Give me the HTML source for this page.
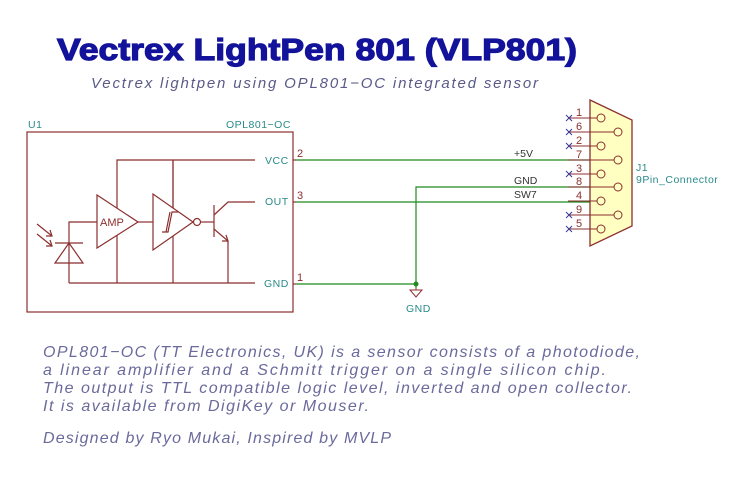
<!DOCTYPE html>
<html><head><meta charset="utf-8"><style>
html,body{margin:0;padding:0;background:#fff;}
svg{display:block;}
text{font-family:"Liberation Sans",sans-serif;}
</style></head><body>
<svg width="740" height="487" viewBox="0 0 740 487" xmlns="http://www.w3.org/2000/svg">
<rect width="740" height="487" fill="#fff"/>
<!-- title -->
<text x="57" y="60" font-size="31" font-weight="bold" fill="#12129a" stroke="#12129a" stroke-width="1.2" textLength="520" lengthAdjust="spacingAndGlyphs">Vectrex LightPen 801 (VLP801)</text>
<text x="91" y="88" font-size="15" font-style="italic" fill="#5a5a88" textLength="447" lengthAdjust="spacing">Vectrex lightpen using OPL801−OC integrated sensor</text>

<!-- U1 box -->
<g stroke="#8b2f2f" stroke-width="1.2" fill="none">
<rect x="27" y="132" width="266" height="180"/>
<polyline points="117,248 117,160 255,160"/>
<line x1="173" y1="160" x2="173" y2="283"/>
<line x1="69" y1="283" x2="255" y2="283"/>
<line x1="117" y1="248" x2="117" y2="283"/>
<polygon points="97,195 97,248 138,222" fill="#fff"/>
<line x1="138" y1="222" x2="153" y2="222"/>
<polygon points="153,194 153,250 193,222" fill="#fff"/>
<line x1="173" y1="160" x2="173" y2="208"/>
<path d="M162,232 L168,232 L172,212 L178,212 M166,232 L170,212"/>
<circle cx="197" cy="222" r="3.5" fill="#fff"/>
<line x1="200.5" y1="222" x2="214" y2="222"/>
<line x1="214" y1="205" x2="214" y2="237"/>
<polyline points="214,215 228,202 255,202"/>
<polyline points="214,229 228,241 228,283"/>
<path d="M222,241 L228,241 L226,235"/>
<polyline points="97,222 69,222 69,283"/>
<line x1="55" y1="243" x2="83" y2="243"/>
<polygon points="69,243 55,263 83,263"/>
<line x1="37" y1="224" x2="52" y2="236"/><path d="M46,236 L52,236 L50,230"/>
<line x1="37" y1="234" x2="52" y2="246"/><path d="M46,246 L52,246 L50,240"/>
<line x1="293" y1="160" x2="296" y2="160"/>
<line x1="293" y1="202" x2="296" y2="202"/>
<line x1="293" y1="284" x2="296" y2="284"/>
</g>
<g font-size="11" fill="#8b2f2f">
<text x="100" y="226">AMP</text>
<text x="297" y="157">2</text>
<text x="297" y="199">3</text>
<text x="297" y="281">1</text>
</g>
<g font-size="10.5" fill="#2a8a8a" letter-spacing="0.5">
<text x="28" y="128">U1</text>
<text x="226" y="128">OPL801−OC</text>
<text x="265" y="164">VCC</text>
<text x="265" y="205">OUT</text>
<text x="264" y="287">GND</text>
<text x="636" y="171">J1</text>
<text x="636" y="183">9Pin_Connector</text>
<text x="406" y="312">GND</text>
</g>

<g stroke="#1f8a1f" stroke-width="1.2" fill="none">
<line x1="296" y1="160" x2="590" y2="160"/>
<line x1="296" y1="202" x2="590" y2="202"/>
<line x1="296" y1="284" x2="416" y2="284"/>
<polyline points="590,187 416,187 416,288"/>
</g>
<circle cx="416" cy="284" r="2.5" fill="#1f8a1f"/>
<g stroke="#8b2f2f" stroke-width="1" fill="none">
<line x1="416" y1="288" x2="416" y2="290"/>
<polygon points="410,290 422,290 416,297"/>
</g>
<g font-size="10.5" fill="#333">
<text x="514" y="157">+5V</text>
<text x="514" y="184">GND</text>
<text x="514" y="198">SW7</text>
</g>

<polygon points="590,100 632,120 632,226 590,246" fill="#ffffc2" stroke="#8b2f2f" stroke-width="1.3"/>
<g stroke="#8b2f2f" stroke-width="1" fill="#ffffc2">
<line x1="568" y1="118" x2="597" y2="118"/><circle cx="601" cy="118" r="4"/>
<line x1="568" y1="132" x2="614" y2="132"/><circle cx="618" cy="132" r="4"/>
<line x1="568" y1="146" x2="597" y2="146"/><circle cx="601" cy="146" r="4"/>
<line x1="568" y1="160" x2="614" y2="160"/><circle cx="618" cy="160" r="4"/>
<line x1="568" y1="174" x2="597" y2="174"/><circle cx="601" cy="174" r="4"/>
<line x1="568" y1="187" x2="614" y2="187"/><circle cx="618" cy="187" r="4"/>
<line x1="568" y1="201" x2="597" y2="201"/><circle cx="601" cy="201" r="4"/>
<line x1="568" y1="215" x2="614" y2="215"/><circle cx="618" cy="215" r="4"/>
<line x1="568" y1="229" x2="597" y2="229"/><circle cx="601" cy="229" r="4"/>
</g>
<g stroke="#3a3a9a" stroke-width="1">
<path d="M566,115 l6,6 M572,115 l-6,6"/>
<path d="M566,129 l6,6 M572,129 l-6,6"/>
<path d="M566,143 l6,6 M572,143 l-6,6"/>
<path d="M566,171 l6,6 M572,171 l-6,6"/>
<path d="M566,212 l6,6 M572,212 l-6,6"/>
<path d="M566,226 l6,6 M572,226 l-6,6"/>
</g>
<g font-size="11" fill="#8b2f2f">
<text x="576" y="116">1</text><text x="576" y="130">6</text><text x="576" y="144">2</text>
<text x="576" y="158">7</text><text x="576" y="172">3</text><text x="576" y="185">8</text>
<text x="576" y="199">4</text><text x="576" y="213">9</text><text x="576" y="227">5</text>
</g>

<g font-size="16" font-style="italic" fill="#6a6a9c">
<text x="43" y="357" textLength="597" lengthAdjust="spacing">OPL801−OC (TT Electronics, UK) is a sensor consists of a photodiode,</text>
<text x="43" y="375" textLength="563" lengthAdjust="spacing">a linear amplifier and a Schmitt trigger on a single silicon chip.</text>
<text x="43" y="393" textLength="589" lengthAdjust="spacing">The output is TTL compatible logic level, inverted and open collector.</text>
<text x="43" y="411" textLength="326" lengthAdjust="spacing">It is available from DigiKey or Mouser.</text>
<text x="43" y="443" textLength="348" lengthAdjust="spacing">Designed by Ryo Mukai, Inspired by MVLP</text>
</g>
</svg>
</body></html>
